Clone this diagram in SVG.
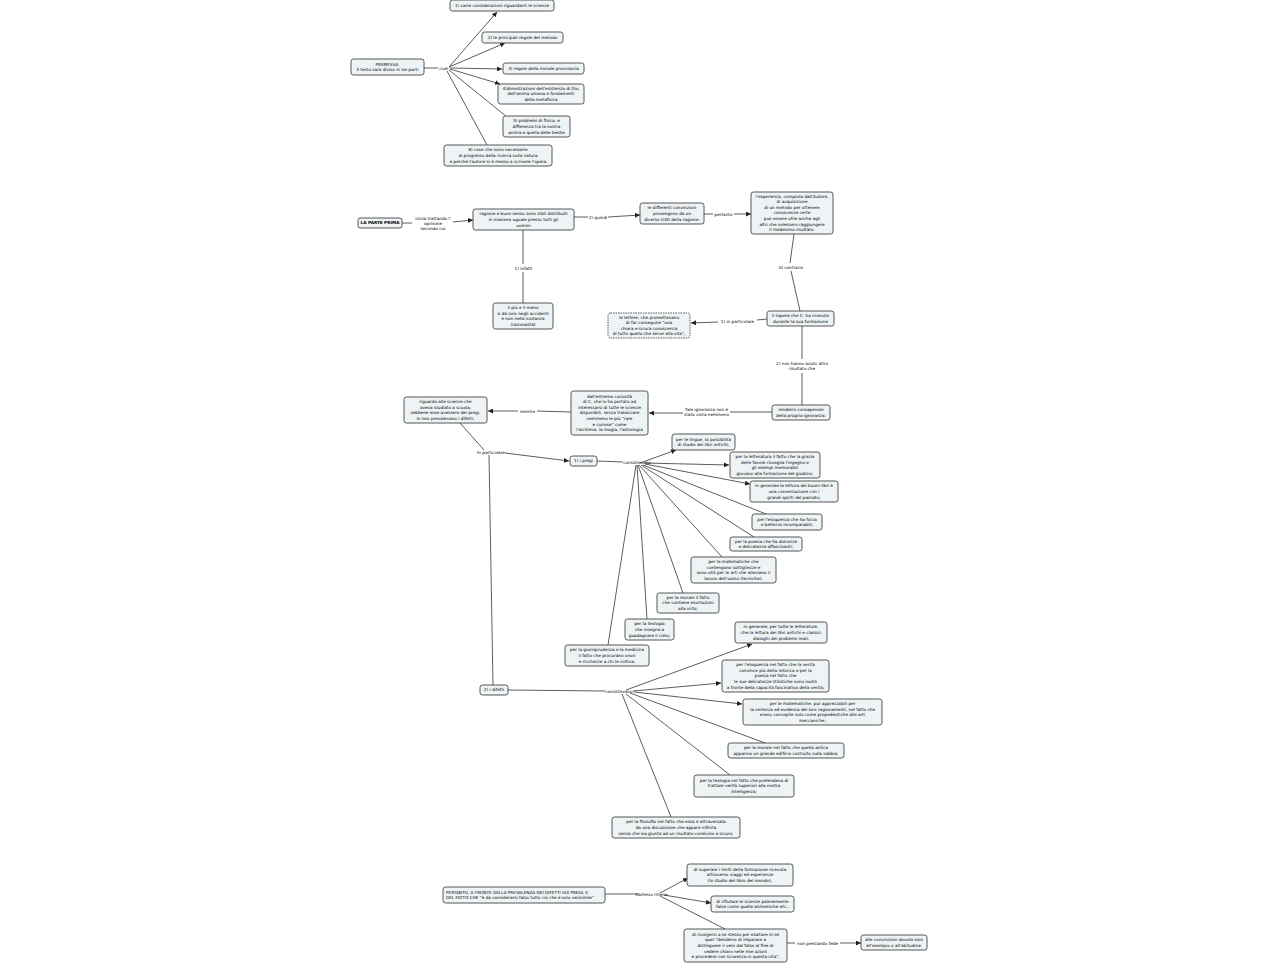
<svg xmlns="http://www.w3.org/2000/svg" width="1280" height="963" viewBox="0 0 1280 963">
<defs>
<marker id="ar" viewBox="0 0 10 10" refX="10" refY="5" markerWidth="5" markerHeight="5" markerUnits="userSpaceOnUse" orient="auto"><path d="M0,0 L10,5 L0,10 z" fill="#222"/></marker>
<style>
.n rect{fill:#eef3f5;stroke:#444;stroke-width:0.9}
.n rect.d{stroke-dasharray:1.5,1}
.n text,.l{font-family:"DejaVu Sans",Verdana,sans-serif;font-size:4.2px;fill:#000;text-anchor:middle}
.b{font-weight:bold}
#c line,#c polyline{stroke:#333;stroke-width:0.8;fill:none}
#c .a{marker-end:url(#ar)}
</style>
</defs>
<rect width="1280" height="963" fill="#fff"/>
<g id="c">
<line x1="424" y1="68" x2="438" y2="68"/>
<line class="a" x1="449" y1="67" x2="497" y2="12"/>
<line class="a" x1="449" y1="67" x2="505" y2="43"/>
<line class="a" x1="450" y1="68" x2="502" y2="69"/>
<line class="a" x1="450" y1="69" x2="500" y2="84"/>
<line x1="449" y1="70" x2="507" y2="117"/>
<line x1="447" y1="71" x2="487" y2="145"/>
<line x1="402" y1="223" x2="412" y2="223"/>
<line class="a" x1="453" y1="222" x2="473" y2="220"/>
<line x1="574" y1="217" x2="588" y2="217"/>
<line class="a" x1="608" y1="217" x2="640" y2="215"/>
<line x1="704" y1="214" x2="713" y2="214"/>
<line class="a" x1="734" y1="214" x2="751" y2="214"/>
<line x1="523" y1="230" x2="523" y2="264"/>
<line x1="523" y1="272" x2="523" y2="303"/>
<line x1="794" y1="234" x2="790" y2="263"/>
<line x1="791" y1="271" x2="800" y2="311"/>
<line x1="767" y1="319" x2="757" y2="320"/>
<line class="a" x1="718" y1="322" x2="691" y2="323"/>
<line x1="802" y1="326" x2="802" y2="359"/>
<line x1="802" y1="373" x2="802" y2="405"/>
<line x1="772" y1="412" x2="730" y2="412"/>
<line class="a" x1="683" y1="413" x2="649" y2="413"/>
<line x1="571" y1="412" x2="537" y2="411"/>
<line class="a" x1="518" y1="411" x2="488" y2="411"/>
<line x1="460" y1="423" x2="484" y2="450"/>
<line class="a" x1="505" y1="453" x2="569" y2="461"/>
<line x1="489" y1="455" x2="493" y2="685"/>
<line x1="597" y1="461" x2="623" y2="462"/>
<line class="a" x1="640" y1="463" x2="676" y2="450"/>
<line class="a" x1="645" y1="463" x2="729" y2="465"/>
<line class="a" x1="645" y1="464" x2="750" y2="484"/>
<line x1="643" y1="465" x2="766" y2="514"/>
<line x1="641" y1="465" x2="754" y2="537"/>
<line x1="639" y1="465" x2="722" y2="557"/>
<line x1="638" y1="465" x2="683" y2="593"/>
<line x1="637" y1="465" x2="647" y2="619"/>
<line x1="636" y1="465" x2="608" y2="645"/>
<line x1="508" y1="690" x2="605" y2="691"/>
<line class="a" x1="626" y1="690" x2="752" y2="644"/>
<line class="a" x1="633" y1="691" x2="721" y2="683"/>
<line class="a" x1="634" y1="692" x2="742" y2="704"/>
<line x1="630" y1="693" x2="765" y2="743"/>
<line x1="626" y1="694" x2="730" y2="775"/>
<line x1="622" y1="694" x2="671" y2="817"/>
<line x1="605" y1="894" x2="639" y2="894"/>
<line class="a" x1="660" y1="893" x2="688" y2="878"/>
<line class="a" x1="664" y1="895" x2="711" y2="903"/>
<line x1="660" y1="896" x2="725" y2="929"/>
<line x1="787" y1="943" x2="795" y2="943"/>
<line class="a" x1="840" y1="943" x2="861" y2="943"/>
</g>
<g id="labels">
<text class="l" x="443.5" y="69.5">cioè</text>
<text class="l" x="433" y="219.5">inizia  trattando l'<tspan x="433" dy="5">opinione</tspan><tspan x="433" dy="5">secondo cui</tspan></text>
<text class="l" x="598" y="218.5">2) quindi</text>
<text class="l" x="723.5" y="215.5">pertanto</text>
<text class="l" x="523.5" y="269.5">1) infatti</text>
<text class="l" x="791" y="268.5">Al contrario</text>
<text class="l" x="737.5" y="322.5">1) in particolare</text>
<text class="l" x="802" y="364.5">2) non hanno avuto altro<tspan x="802" dy="5">risultato che</tspan></text>
<text class="l" x="706.5" y="411">Tale ignoranza non è<tspan x="706.5" dy="5">stata vinta nemmeno</tspan></text>
<text class="l" x="527.5" y="412.5">mentre</text>
<text class="l" x="491" y="454">In particolare</text>
<text class="l" x="637" y="463.5">consistevano</text>
<text class="l" x="619" y="692.5">consistevano</text>
<text class="l" x="651.5" y="895.5">Cartesio ritiene</text>
<text class="l" x="817.5" y="944.5">non prestando fede</text>
</g>
<g id="premessa" class="n"><rect x="351" y="59" width="73" height="16" rx="2.5"/><text x="387.5" y="65.6">PREMESSA:<tspan x="387.5" dy="5.6">Il testo sarà diviso in sei parti</tspan></text></g>
<g id="p1n" class="n"><rect x="450" y="0" width="104" height="11" rx="2.5"/><text x="502" y="6.9">1) varie considerazioni riguardanti le scienze</text></g>
<g id="p2n" class="n"><rect x="482" y="32" width="81" height="11" rx="2.5"/><text x="522.5" y="38.9">2)  le principali regole del metodo</text></g>
<g id="p3n" class="n"><rect x="503" y="63" width="81" height="11" rx="2.5"/><text x="543.5" y="69.9">3) regole della morale provvisoria</text></g>
<g id="p4n" class="n"><rect x="498" y="84" width="86" height="20" rx="2.5"/><text x="541" y="89.8">4)dimostrazioni dell'esistenza di Dio,<tspan x="541" dy="5.6">dell'anima umana e fondamenti</tspan><tspan x="541" dy="5.6">della metafisica</tspan></text></g>
<g id="p5n" class="n"><rect x="503" y="116" width="67" height="21" rx="2.5"/><text x="536.5" y="122.3">5) problemi di fisica, e<tspan x="536.5" dy="5.6">differenza tra la nostra</tspan><tspan x="536.5" dy="5.6">anima e quella delle bestie</tspan></text></g>
<g id="p6n" class="n"><rect x="444" y="145" width="108" height="21" rx="2.5"/><text x="498" y="151.3">6) cose che sono necessarie<tspan x="498" dy="5.6">al progresso della ricerca sulla natura</tspan><tspan x="498" dy="5.6">e perché l'autore si è messo a scrivere l'opera</tspan></text></g>
<g id="parteprima" class="n"><rect x="358" y="218" width="44" height="10" rx="2.5"/><text class="b" x="380" y="224.4">LA PARTE PRIMA</text></g>
<g id="ragione" class="n"><rect x="473" y="209" width="101" height="21" rx="2.5"/><text x="523.5" y="215.3">ragione e buon senso sono stati distribuiti<tspan x="523.5" dy="5.6">in maniera uguale presso tutti gli</tspan><tspan x="523.5" dy="5.6">uomini</tspan></text></g>
<g id="piumeno" class="n"><rect x="493" y="303" width="60" height="26" rx="2.5"/><text x="523" y="309">il più e il meno<tspan x="523" dy="5.6">si dà solo negli accidenti</tspan><tspan x="523" dy="5.6">e non nella sostanza</tspan><tspan x="523" dy="5.6">(razionalità)</tspan></text></g>
<g id="differenti" class="n"><rect x="640" y="203" width="64" height="21" rx="2.5"/><text x="672" y="209.3">le differenti convinzioni<tspan x="672" dy="5.6">provengono da un</tspan><tspan x="672" dy="5.6">diverso USO della ragione.</tspan></text></g>
<g id="esperienza" class="n"><rect x="751" y="192" width="82" height="42" rx="2.5"/><text x="792" y="197.6">l'esperienza, compiuta dall'Autore,<tspan x="792" dy="5.6">di acquisizione</tspan><tspan x="792" dy="5.6">di un metodo per ottenere</tspan><tspan x="792" dy="5.6">conoscenze certe</tspan><tspan x="792" dy="5.6">può essere utile anche agli</tspan><tspan x="792" dy="5.6">altri che volessero raggiungere</tspan><tspan x="792" dy="5.6">il medesimo risultato.</tspan></text></g>
<g id="sapere" class="n"><rect x="767" y="311" width="67" height="15" rx="2.5"/><text x="800.5" y="317.1">il sapere che C. ha ricevuto<tspan x="800.5" dy="5.6">durante la sua formazione</tspan></text></g>
<g id="lettere" class="n"><rect class="d" x="608" y="313" width="82" height="25" rx="2.5"/><text x="649" y="318.5">le lettere, che promettevano<tspan x="649" dy="5.6">di far conseguire "una</tspan><tspan x="649" dy="5.6">chiara e sicura conoscenza</tspan><tspan x="649" dy="5.6">di tutto quello che serve alla vita",</tspan></text></g>
<g id="renderlo" class="n"><rect x="772" y="405" width="58" height="15" rx="2.5"/><text x="801" y="411.1">renderlo consapevole<tspan x="801" dy="5.6">della propria ignoranza.</tspan></text></g>
<g id="curiosita" class="n"><rect x="571" y="391" width="77" height="44" rx="2.5"/><text x="609.5" y="397.6">dall'estrema curiosità<tspan x="609.5" dy="5.6">di C. che lo ha portato ad</tspan><tspan x="609.5" dy="5.6">interessarsi di tutte le scienze</tspan><tspan x="609.5" dy="5.6">disponibili, senza tralasciare</tspan><tspan x="609.5" dy="5.6">nemmeno le  più "rare</tspan><tspan x="609.5" dy="5.6">e curiose" come</tspan><tspan x="609.5" dy="5.6">l'alchimia, la magia, l'astrologia</tspan></text></g>
<g id="scienze" class="n"><rect x="404" y="397" width="83" height="26" rx="2.5"/><text x="445.5" y="403">riguardo alle scienze che<tspan x="445.5" dy="5.6">aveva studiato a scuola,</tspan><tspan x="445.5" dy="5.6">sebbene esse avessero dei pregi,</tspan><tspan x="445.5" dy="5.6">in loro prevalevano i difetti.</tspan></text></g>
<g id="pregi" class="n"><rect x="570" y="456" width="27" height="10" rx="2.5"/><text x="583.5" y="462.4">1) i pregi</text></g>
<g id="difetti" class="n"><rect x="480" y="685" width="28" height="10" rx="2.5"/><text x="494" y="691.4">2) i difetti</text></g>
<g id="pr1" class="n"><rect x="672" y="434" width="63" height="16" rx="2.5"/><text x="703.5" y="440.6">per le lingue, la possibilità<tspan x="703.5" dy="5.6">di studio dei libri antichi;</tspan></text></g>
<g id="pr2" class="n"><rect x="730" y="452" width="90" height="26" rx="2.5"/><text x="775" y="458">per la letteratura il fatto che la grazia<tspan x="775" dy="5.6">delle favole risveglia l'ingegno e</tspan><tspan x="775" dy="5.6">gli esempi memorabili</tspan><tspan x="775" dy="5.6">giovano alla formazione del giudizio;</tspan></text></g>
<g id="pr3" class="n"><rect x="750" y="481" width="88" height="21" rx="2.5"/><text x="794" y="487.3">in generale la lettura dei buoni libri è<tspan x="794" dy="5.6">una conversazione con i</tspan><tspan x="794" dy="5.6">grandi spiriti del passato;</tspan></text></g>
<g id="pr4" class="n"><rect x="752" y="514" width="70" height="16" rx="2.5"/><text x="787" y="520.6">per l'eloquenza che ha forza<tspan x="787" dy="5.6">e bellezza incomparabili;</tspan></text></g>
<g id="pr5" class="n"><rect x="730" y="537" width="72" height="14" rx="2.5"/><text x="766" y="542.6">per la poesia che ha dolcezze<tspan x="766" dy="5.6">e delicatezze affascinanti;</tspan></text></g>
<g id="pr6" class="n"><rect x="691" y="557" width="85" height="26" rx="2.5"/><text x="733.5" y="563">per le matematiche che<tspan x="733.5" dy="5.6">contengono sottigliezze e</tspan><tspan x="733.5" dy="5.6">sono utili per le arti che alleviano il</tspan><tspan x="733.5" dy="5.6">lavoro dell'uomo (tecniche);</tspan></text></g>
<g id="pr7" class="n"><rect x="657" y="593" width="62" height="20" rx="2.5"/><text x="688" y="598.8">per la morale il fatto<tspan x="688" dy="5.6">che contiene esortazioni</tspan><tspan x="688" dy="5.6">alla virtù;</tspan></text></g>
<g id="pr8" class="n"><rect x="625" y="619" width="49" height="21" rx="2.5"/><text x="649.5" y="625.3">per la teologia<tspan x="649.5" dy="5.6">che insegna a</tspan><tspan x="649.5" dy="5.6">guadagnare il cielo;</tspan></text></g>
<g id="pr9" class="n"><rect x="565" y="645" width="84" height="21" rx="2.5"/><text x="607" y="651.3">per la giurisprudenza e la medicina<tspan x="607" dy="5.6">il fatto che procurano onori</tspan><tspan x="607" dy="5.6">e ricchezze a chi le coltiva.</tspan></text></g>
<g id="df1" class="n"><rect x="735" y="622" width="92" height="21" rx="2.5"/><text x="781" y="628.3">in generale, per tutte le letterature,<tspan x="781" dy="5.6">che la lettura dei libri antichi e classici</tspan><tspan x="781" dy="5.6">dialoghi dei problemi reali;</tspan></text></g>
<g id="df2" class="n"><rect x="722" y="660" width="107" height="32" rx="2.5"/><text x="775.5" y="666.2">per l'eloquenza nel fatto che la verità<tspan x="775.5" dy="5.6">convince più della retorica e per la</tspan><tspan x="775.5" dy="5.6">poesia nel fatto che</tspan><tspan x="775.5" dy="5.6">le sue delicatezze stilistiche sono inutili</tspan><tspan x="775.5" dy="5.6">a fronte della capacità fascinativa della verità;</tspan></text></g>
<g id="df3" class="n"><rect x="743" y="699" width="139" height="26" rx="2.5"/><text x="812.5" y="705">per le matematiche, pur apprezzabili per<tspan x="812.5" dy="5.6">la certezza ed evidenza dei loro ragionamenti, nel fatto che</tspan><tspan x="812.5" dy="5.6">erano concepite solo come propedeutiche alle arti</tspan><tspan x="812.5" dy="5.6">meccaniche;</tspan></text></g>
<g id="df4" class="n"><rect x="728" y="743" width="116" height="15" rx="2.5"/><text x="786" y="749.1">per la morale nel fatto che quella antica<tspan x="786" dy="5.6">appariva un grande edificio costruito sulla sabbia;</tspan></text></g>
<g id="df5" class="n"><rect x="694" y="775" width="100" height="22" rx="2.5"/><text x="744" y="781.8">per la teologia nel fatto che pretendeva di<tspan x="744" dy="5.6">trattare verità superiori alla nostra</tspan><tspan x="744" dy="5.6">intelligenza;</tspan></text></g>
<g id="df6" class="n"><rect x="612" y="817" width="128" height="21" rx="2.5"/><text x="676" y="823.3">per la filosofia nel fatto che essa è attraversata<tspan x="676" dy="5.6">da una discussione che appare infinita</tspan><tspan x="676" dy="5.6">senza che sia giunta ad un risultato condiviso e sicuro;</tspan></text></g>
<g id="pertanto" class="n"><rect x="443" y="887" width="162" height="16" rx="2.5"/><text x="446" y="893.6" style="text-anchor:start">PERTANTO, A FRONTE DELLA PREVALENZA DEI DIFETTI SUI PREGI, E<tspan x="446" dy="5.6">DEL FATTO CHE "è da considerarsi falso tutto ciò che è solo verisimile"</tspan></text></g>
<g id="ri1" class="n"><rect x="687" y="864" width="106" height="22" rx="2.5"/><text x="740" y="870.8">di superare i limiti della formazione ricevuta<tspan x="740" dy="5.6">attraverso viaggi ed esperienze</tspan><tspan x="740" dy="5.6">(lo studio del libro del mondo);</tspan></text></g>
<g id="ri2" class="n"><rect x="711" y="896" width="83" height="16" rx="2.5"/><text x="752.5" y="902.6">di rifiutare le scienze palesemente<tspan x="752.5" dy="5.6">false come quelle alchemiche etc.;</tspan></text></g>
<g id="ri3" class="n"><rect x="684" y="929" width="103" height="33" rx="2.5"/><text x="735.5" y="935.8">di rivolgersi a se stesso per esaltare in sé<tspan x="735.5" dy="5.6">quel "desiderio di imparare a</tspan><tspan x="735.5" dy="5.6">distinguere il vero dal falso al fine di</tspan><tspan x="735.5" dy="5.6">vedere chiaro nelle mie azioni</tspan><tspan x="735.5" dy="5.6">e procedere con sicurezza in questa vita",</tspan></text></g>
<g id="convinzioni" class="n"><rect x="861" y="935" width="66" height="15" rx="2.5"/><text x="894" y="941.1">alle convinzioni dovute solo<tspan x="894" dy="5.6">all'esempio o all'abitudine.</tspan></text></g>
</svg>
